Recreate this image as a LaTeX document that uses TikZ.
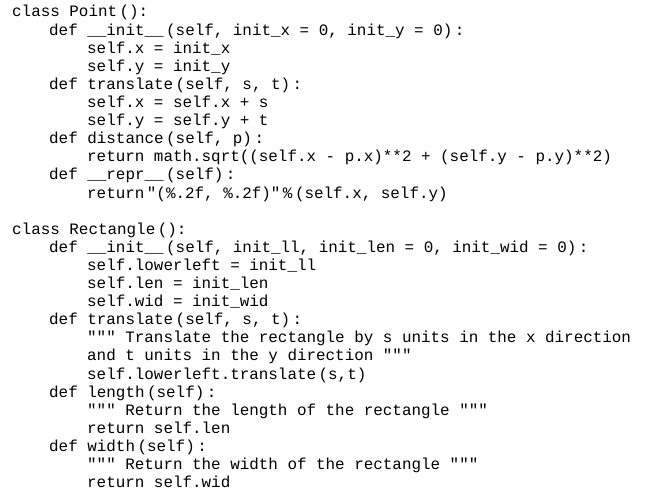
\documentclass[tikz,border=0pt]{standalone}
\usepackage{fontspec}
\newfontfamily\code{Liberation Mono}
\newcommand\gp{\hspace{2.5pt}}
\begin{document}
\begin{tikzpicture}[x=1pt,y=1pt,
  ln/.style={anchor=base west,inner sep=0pt,font=\code\fontsize{15.9}{18}\selectfont}]
\useasboundingbox (0,0) rectangle (651,491);
\node[ln] (l0) at (12,{491-17-18.1*0}) {class Point\gp():};
\node[ln] (l1) at (49,{491-17-18.1*1}) {def \_\_init\_\_\gp(self, init\_x = 0, init\_y = 0)\gp:};
\node[ln] (l2) at (87,{491-17-18.1*2}) {self.x = init\_x};
\node[ln] (l3) at (87,{491-17-18.1*3}) {self.y = init\_y};
\node[ln] (l4) at (49,{491-17-18.1*4}) {def translate\gp(self, s, t)\gp:};
\node[ln] (l5) at (87,{491-17-18.1*5}) {self.x = self.x + s};
\node[ln] (l6) at (87,{491-17-18.1*6}) {self.y = self.y + t};
\node[ln] (l7) at (49,{491-17-18.1*7}) {def distance\gp(self, p)\gp:};
\node[ln] (l8) at (87,{491-17-18.1*8}) {return math.sqrt((self.x - p.x)**2 + (self.y - p.y)**2)};
\node[ln] (l9) at (49,{491-17-18.1*9}) {def \_\_repr\_\_\gp(self)\gp:};
\node[ln] (l10) at (87,{491-17-18.1*10}) {return\gp"(\%.2f, \%.2f)"\gp\%\gp(self.x, self.y)};
\node[ln] (l12) at (12,{491-17-18.1*12}) {class Rectangle\gp():};
\node[ln] (l13) at (49,{491-17-18.1*13}) {def \_\_init\_\_\gp(self, init\_ll, init\_len = 0, init\_wid = 0)\gp:};
\node[ln] (l14) at (87,{491-17-18.1*14}) {self.lowerleft = init\_ll};
\node[ln] (l15) at (87,{491-17-18.1*15}) {self.len = init\_len};
\node[ln] (l16) at (87,{491-17-18.1*16}) {self.wid = init\_wid};
\node[ln] (l17) at (49,{491-17-18.1*17}) {def translate\gp(self, s, t)\gp:};
\node[ln] (l18) at (87,{491-17-18.1*18}) {""" Translate the rectangle by s units in the x direction};
\node[ln] (l19) at (87,{491-17-18.1*19}) {and t units in the y direction """};
\node[ln] (l20) at (87,{491-17-18.1*20}) {self.lowerleft.translate\gp(s,t)};
\node[ln] (l21) at (49,{491-17-18.1*21}) {def length\gp(self)\gp:};
\node[ln] (l22) at (87,{491-17-18.1*22}) {""" Return the length of the rectangle """};
\node[ln] (l23) at (87,{491-17-18.1*23}) {return self.len};
\node[ln] (l24) at (49,{491-17-18.1*24}) {def width\gp(self)\gp:};
\node[ln] (l25) at (87,{491-17-18.1*25}) {""" Return the width of the rectangle """};
\node[ln] (l26) at (87,{491-17-18.1*26}) {return self.wid};
\end{tikzpicture}
\end{document}
